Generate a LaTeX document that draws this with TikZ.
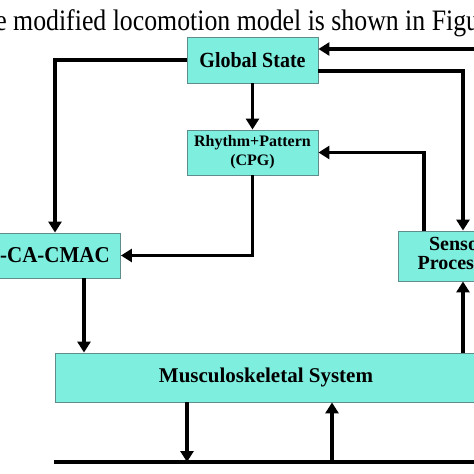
\documentclass[tikz,border=0pt]{standalone}
\usepackage{fontspec}
\setmainfont{Liberation Serif}
\usetikzlibrary{arrows.meta}
\definecolor{boxfill}{RGB}{126,238,222}
\definecolor{boxline}{RGB}{95,140,140}
\tikzset{
  blk/.style={draw=boxline, line width=0.9pt, fill=boxfill, inner sep=0pt, align=center, font=\bfseries},
  conn/.style={line width=3.1pt, black},
  arr/.style={conn, -{Triangle[width=13pt,length=11pt]}},
}
\begin{document}
\begin{tikzpicture}[x=1pt,y=-1pt]
\useasboundingbox (0,0) rectangle (474,474);
\begin{scope}
\clip (0,0) rectangle (474,474);
\node[anchor=base west, inner sep=0pt, font=\fontsize{25.8}{30}\selectfont] (cap) at (-4.9,30) {\scalebox{1}[1.15]{e modified locomotion model is shown in Figu}};

\node[blk, minimum width=131pt, minimum height=46pt, font=\bfseries\fontsize{20}{22}\selectfont] (gs) at (252.5,60) {\scalebox{1}[1.08]{Global State}};
\node[blk, minimum width=131pt, minimum height=45pt, font=\bfseries\fontsize{16}{19}\selectfont] (rh) at (252.5,152.5) {Rhythm+Pattern\\(CPG)};
\node[blk, minimum width=131pt, minimum height=45pt, font=\bfseries\fontsize{21}{24}\selectfont] (ca) at (55,255.5) {\scalebox{1}[1.08]{-CA-CMAC}};
\node[blk, minimum width=130pt, minimum height=50pt, font=\bfseries\fontsize{20}{19}\selectfont] (sp) at (463,256) {Sensory\\Processing};
\node[blk, minimum width=422pt, minimum height=49pt, font=\bfseries\fontsize{21}{24}\selectfont] (ms) at (266,377.5) {Musculoskeletal System};

\coordinate (inR) at (490,49);
\coordinate (outR) at (318,71);
\coordinate (spUp) at (424,231);
\coordinate (caDn) at (84,278);
\coordinate (gl) at (54,462);
\coordinate (gr) at (490,462);
\coordinate (dn) at (187,462);
\coordinate (up) at (332,462);

\draw[arr] (gs.west) -| (ca.north);
\draw[arr] (inR) -- (gs.east |- inR);
\draw[arr] (outR) -| (sp.north);
\draw[arr] (gs.south) -- (rh.north);
\draw[arr] (rh.south) |- (ca.east);
\draw[arr] (spUp) |- (rh.east);
\draw[arr] (sp.south |- ms.north) -- (sp.south);
\draw[arr] (caDn) -- (caDn |- ms.north);
\draw[conn] (gl) -- (gr);
\draw[arr] (dn |- ms.south) -- (dn);
\draw[arr] (up) -- (up |- ms.south);
\end{scope}
\end{tikzpicture}
\end{document}
